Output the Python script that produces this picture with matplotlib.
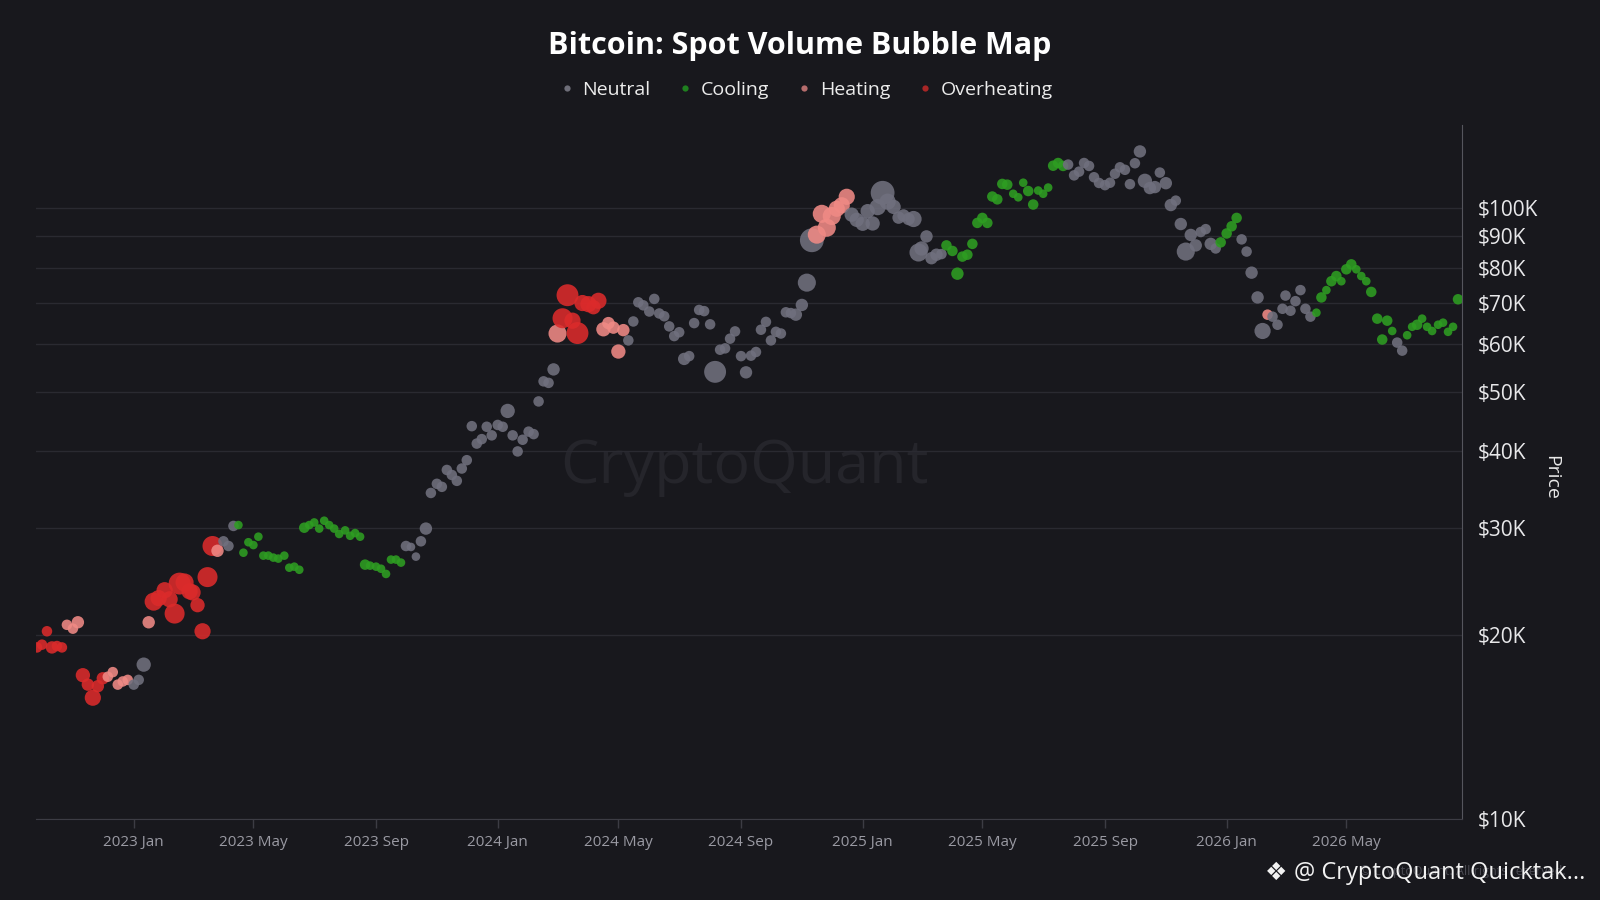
import numpy as np
import pandas as pd
import matplotlib
matplotlib.use("Agg")
import matplotlib.pyplot as plt
from matplotlib.lines import Line2D
from matplotlib.ticker import NullLocator

# Precio BTC (miles de USD), muestreado los días 1, 6, 11, 16, 21 y 26 de cada mes
sample_days = [1, 6, 11, 16, 21, 26]

btc_2022 = [
    19.1,                                  # sep (26)
    19.3, 20.3, 19.1, 19.2, 19.1, 20.8,    # oct
    20.5, 21.0, 17.2, 16.6, 15.8, 16.5,    # nov
    17.0, 17.1, 17.4, 16.6, 16.8, 16.9,    # dic
]
btc_2023 = [
    16.6, 16.9, 17.9, 21.0, 22.7, 23.0,
    23.7, 22.9, 21.7, 24.3, 24.4, 23.6,
    23.5, 22.4, 20.3, 24.9, 28.0, 27.5,
    28.5, 28.0, 30.2, 30.3, 27.3, 28.4,
    28.1, 29.0, 27.0, 27.0, 26.8, 26.7,
    27.0, 25.8, 25.9, 25.6, 30.0, 30.3,
    30.6, 29.9, 30.8, 30.3, 29.9, 29.3,
    29.7, 29.1, 29.4, 29.0, 26.1, 26.0,
    25.9, 25.7, 25.2, 26.6, 26.6, 26.3,
    28.0, 27.9, 26.9, 28.5, 29.9, 34.2,
    35.4, 35.0, 37.3, 36.6, 35.8, 37.5,
    38.7, 44.0, 41.2, 41.9, 43.9, 42.5,
]
btc_2024 = [
    44.2, 43.9, 46.6, 42.5, 40.0, 41.8,
    43.1, 42.7, 48.3, 52.1, 51.8, 54.5,
    62.4, 66.1, 72.1, 65.5, 62.5, 70.0,
    69.7, 68.9, 70.6, 63.4, 64.9, 63.8,
    58.3, 63.2, 60.8, 65.3, 70.2, 69.4,
    67.8, 71.1, 67.3, 66.6, 64.1, 61.8,
    62.7, 56.7, 57.3, 64.9, 68.2, 67.9,
    64.6, 54.0, 58.7, 59.0, 61.2, 62.9,
    57.3, 53.9, 57.4, 58.2, 63.3, 65.2,
    60.8, 62.8, 62.4, 67.6, 67.4, 67.0,
    69.5, 75.6, 88.7, 90.6, 98.0, 93.0,
    97.2, 99.9, 101.2, 104.5, 97.7, 95.8,
]
btc_2025 = [
    94.4, 99.0, 94.5, 100.5, 106.1, 102.6,
    100.6, 96.6, 97.4, 96.1, 96.1, 84.7,
    86.0, 90.0, 82.9, 84.0, 84.2, 87.0,
    85.2, 78.2, 83.4, 84.0, 87.5, 94.7,
    96.5, 94.7, 104.6, 103.5, 109.7, 109.4,
    105.7, 104.3, 110.2, 106.8, 101.5, 107.0,
    105.7, 108.2, 117.5, 118.7, 117.4, 118.0,
    113.3, 114.9, 118.7, 117.4, 112.5, 110.1,
    109.2, 110.2, 114.0, 116.8, 115.7, 109.6,
    118.6, 124.0, 111.0, 108.0, 108.4, 114.5,
    110.0, 101.3, 103.0, 94.3, 85.0, 90.5,
    87.0, 91.5, 92.5, 87.5, 86.0, 88.0,
]
btc_2026 = [
    91.0, 93.5, 96.5, 89.0, 85.0, 78.5,
    71.5, 63.0, 67.0, 66.5, 64.5, 68.5,
    72.0, 68.0, 70.5, 73.5, 68.5, 66.5,
    67.5, 71.5, 73.5, 76.0, 77.5, 76.0,
    79.5, 81.0, 79.5, 77.5, 76.0, 73.0,
    66.0, 61.0, 65.5, 63.0, 60.3, 58.5,
    62.0, 64.0, 64.5, 66.0, 64.0, 63.0,
    64.5, 65.0, 62.8, 64.0, 71.0,
]

# Volumen spot relativo (tamaño de burbuja, 1 = mínimo)
vol_2022 = [2, 2, 2, 3, 2, 2, 2, 2, 3, 4, 3, 5, 3, 3, 2, 2, 2, 2, 2]
vol_2023 = [
    2, 2, 4, 3, 6, 5,
    5, 5, 7, 8, 6, 5,
    5, 4, 5, 7, 7, 3,
    2, 2, 2, 1, 1, 1,
    1, 1, 1, 1, 1, 1,
    1, 1, 1, 1, 2, 1,
    1, 1, 1, 1, 1, 1,
    1, 1, 1, 1, 2, 1,
    1, 1, 1, 1, 1, 1,
    2, 1, 1, 2, 3, 2,
    2, 2, 2, 2, 2, 2,
    2, 2, 2, 2, 2, 2,
]
vol_2024 = [
    2, 2, 4, 2, 2, 2,
    2, 2, 2, 2, 2, 3,
    6, 7, 8, 5, 8, 5,
    5, 4, 5, 4, 3, 3,
    4, 3, 2, 2, 2, 2,
    2, 2, 2, 2, 2, 2,
    2, 3, 2, 2, 2, 2,
    2, 8, 2, 2, 2, 2,
    2, 3, 2, 2, 2, 2,
    2, 2, 2, 2, 2, 3,
    3, 6, 9, 6, 6, 6,
    6, 5, 5, 5, 4, 4,
]
vol_2025 = [
    4, 4, 4, 5, 9, 5,
    4, 3, 3, 3, 5, 6,
    4, 3, 3, 3, 2, 2,
    2, 3, 2, 2, 2, 2,
    2, 2, 2, 2, 2, 2,
    1, 1, 1, 2, 2, 1,
    1, 1, 2, 2, 2, 2,
    2, 2, 2, 2, 2, 2,
    2, 2, 2, 2, 2, 2,
    2, 3, 4, 3, 3, 2,
    3, 3, 2, 3, 6, 3,
    3, 2, 2, 3, 2, 2,
]
vol_2026 = [
    2, 2, 2, 2, 2, 3,
    3, 5, 2, 2, 2, 2,
    2, 2, 2, 2, 2, 2,
    1, 2, 1, 2, 2, 1,
    2, 2, 1, 1, 1, 2,
    2, 2, 2, 1, 2, 2,
    1, 1, 2, 1, 1, 1,
    1, 1, 1, 1, 2,
]

# Régimen de volumen: fecha de inicio y estado
regime_start = [
    "2022-09-01", "2022-10-23", "2022-11-08", "2022-12-04", "2022-12-28",
    "2023-01-14", "2023-01-19", "2023-03-24", "2023-03-28", "2023-04-13",
    "2023-09-29", "2024-02-27", "2024-03-04", "2024-04-13", "2024-05-10",
    "2024-11-13", "2024-12-19", "2025-03-24", "2025-07-26", "2025-12-23",
    "2026-01-15", "2026-02-08", "2026-02-14", "2026-03-29", "2026-06-18",
    "2026-06-28",
]
regime_name = [
    "Overheating", "Heating", "Overheating", "Heating", "Neutral",
    "Heating", "Overheating", "Heating", "Neutral", "Cooling",
    "Neutral", "Heating", "Overheating", "Heating", "Neutral",
    "Heating", "Neutral", "Cooling", "Neutral", "Cooling",
    "Neutral", "Heating", "Neutral", "Cooling", "Neutral",
    "Cooling",
]

categories = ["Neutral", "Cooling", "Heating", "Overheating"]
cat_colors = {"Neutral": "#70707e", "Cooling": "#2e9e22",
              "Heating": "#f08a85", "Overheating": "#dc2b2b"}
legend_colors = {"Neutral": "#6e6e79", "Cooling": "#1f801f",
                 "Heating": "#b56c6c", "Overheating": "#a82626"}

x_ticks = pd.date_range("2023-01-01", "2026-05-01", freq="4MS")
y_ticks = [10, 20, 30, 40, 50, 60, 70, 80, 90, 100]

BG = "#18181d"


def sample_dates(year, n, start_month=1, start_idx=0):
    out = []
    m, i = start_month, start_idx
    while len(out) < n:
        out.append(pd.Timestamp(year, m, sample_days[i]))
        i += 1
        if i == len(sample_days):
            i, m = 0, m + 1
    return out


def main():
    plt.rcParams["font.family"] = ["Open Sans", "DejaVu Sans"]

    series = [(2022, btc_2022, vol_2022, 9, 5), (2023, btc_2023, vol_2023, 1, 0),
              (2024, btc_2024, vol_2024, 1, 0), (2025, btc_2025, vol_2025, 1, 0),
              (2026, btc_2026, vol_2026, 1, 0)]
    fechas, precios, vols = [], [], []
    for year, p, v, m0, i0 in series:
        fechas += sample_dates(year, len(p), m0, i0)
        precios += p
        vols += v
    fechas = pd.DatetimeIndex(fechas)
    precios = np.array(precios) * 1000
    vols = np.array(vols)

    starts = pd.DatetimeIndex(pd.to_datetime(regime_start))
    idx = np.searchsorted(starts.values, fechas.values, side="right") - 1
    cats = [regime_name[k] for k in idx]
    colores = [cat_colors[c] for c in cats]

    # radio en píxeles -> área en puntos^2
    radio_px = 4.3 + 0.95 * (vols - 1)
    tam = (2 * radio_px * 0.72) ** 2

    fig = plt.figure(figsize=(16, 9), dpi=100)
    fig.patch.set_facecolor(BG)
    ax = fig.add_axes([36 / 1600, 81 / 900, 1426 / 1600, 694 / 900])
    ax.set_facecolor(BG)

    ax.scatter(fechas, precios, s=tam, c=colores, alpha=0.88,
               edgecolors="none", zorder=3)

    ax.set_yscale("log")
    ax.set_ylim(10000, 137000)
    ax.set_xlim(pd.Timestamp("2022-09-25"), pd.Timestamp("2026-08-25"))

    ax.yaxis.tick_right()
    ax.set_yticks([v * 1000 for v in y_ticks])
    ax.set_yticklabels([f"${v}K" for v in y_ticks])
    ax.yaxis.set_minor_locator(NullLocator())
    ax.tick_params(axis="y", length=0, pad=11, labelsize=15, labelcolor="#e8e8ea")

    ax.set_xticks(x_ticks)
    ax.set_xticklabels([f"{d.year} {d.strftime('%b')}" for d in x_ticks])
    ax.tick_params(axis="x", length=6.5, width=1, color="#3c3c44", pad=5,
                   labelsize=11, labelcolor="#9a9aa3")

    ax.grid(axis="y", which="major", color="#2a2a31", lw=1, zorder=0)
    for lado in ("top", "left"):
        ax.spines[lado].set_visible(False)
    ax.spines["bottom"].set_color("#3c3c44")
    ax.spines["right"].set_color("#55555d")

    ax.text(0.4965, 0.507, "CryptoQuant", transform=ax.transAxes, ha="center",
            va="center", fontsize=44, color="#25252b", zorder=1)

    fig.text(0.5, 1 - 46 / 900, "Bitcoin: Spot Volume Bubble Map", ha="center",
             va="center", fontsize=22, fontweight="bold", color="#ffffff")

    handles = [Line2D([], [], marker="o", ls="", markersize=4.5,
                      markerfacecolor=legend_colors[c], markeredgecolor="none")
               for c in categories]
    fig.legend(handles, categories, loc="center", bbox_to_anchor=(0.503, 0.9),
               ncol=4, frameon=False, fontsize=14, labelcolor="#ececec",
               handletextpad=0.3, columnspacing=1.3, handlelength=1.0)

    fig.text(1551 / 1600, 1 - 477 / 900, "Price", rotation=-90, ha="center",
             va="center", fontsize=14, color="#e8e8e8")

    fig.text(1360 / 1600, 1 - 872 / 900, "© CryptoQuant. All rights reserved.",
             ha="left", va="center", fontsize=9, color="#4a4a52", zorder=1)
    fig.text(1276 / 1600, 1 - 873 / 900, "❖", ha="center", va="center",
             fontsize=18, color="#f2f2f2", zorder=2)
    fig.text(1294 / 1600, 1 - 873 / 900, "@ CryptoQuant Quicktak...", ha="left",
             va="center", fontsize=17, color="#f2f2f2", zorder=2)

    fig.savefig("out.png", dpi=100, facecolor=BG)


if __name__ == "__main__":
    main()
